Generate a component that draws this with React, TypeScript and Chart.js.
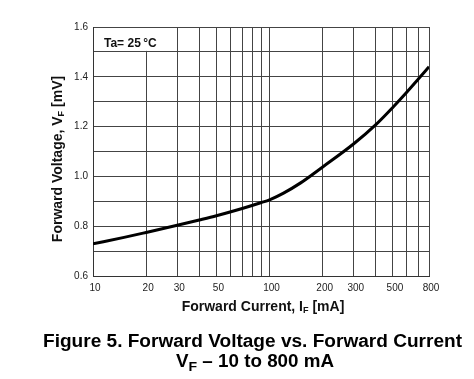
import React, { useEffect, useRef } from "react";
import { Chart, registerables } from "chart.js";

Chart.register(...registerables);

// Data
const CURRENT_MA = [10, 15, 20, 30, 40, 50, 70, 90, 100, 120, 150, 200, 300, 400, 500, 600, 700, 800];
const FORWARD_V = [0.729, 0.755, 0.775, 0.804, 0.825, 0.842, 0.871, 0.895, 0.906, 0.933, 0.974, 1.038, 1.131, 1.208, 1.278, 1.339, 1.393, 1.44];

const X_GRID = [10, 20, 30, 40, 50, 60, 70, 80, 90, 100, 200, 300, 400, 500, 600, 700, 800];
const X_LABELS = [10, 20, 30, 50, 100, 200, 300, 500, 800];
const Y_GRID = [0.6, 0.7, 0.8, 0.9, 1.0, 1.1, 1.2, 1.3, 1.4, 1.5, 1.6];
const Y_LABELS = [0.6, 0.8, 1.0, 1.2, 1.4, 1.6];

const FONT = '"Liberation Sans", Arial, Helvetica, sans-serif';

type Part = { t: string; sub?: boolean };

function drawRich(
  ctx: CanvasRenderingContext2D,
  parts: Part[],
  x: number,
  y: number,
  size: number,
  subScale: number,
  subDrop: number,
  targetWidth?: number
) {
  const mainFont = `bold ${size}px ${FONT}`;
  const subFont = `bold ${size * subScale}px ${FONT}`;
  let total = 0;
  const widths = parts.map((p) => {
    ctx.font = p.sub ? subFont : mainFont;
    const w = ctx.measureText(p.t).width;
    total += w;
    return w;
  });
  const sx = targetWidth ? targetWidth / total : 1;
  ctx.save();
  ctx.translate(x, y);
  ctx.scale(sx, 1);
  ctx.textAlign = "left";
  ctx.textBaseline = "alphabetic";
  let cx = -total / 2;
  parts.forEach((p, i) => {
    ctx.font = p.sub ? subFont : mainFont;
    ctx.fillText(p.t, cx, p.sub ? subDrop : 0);
    cx += widths[i];
  });
  ctx.restore();
}

const textPlugin = {
  id: "textPlugin",
  beforeDatasetsDraw(chart: any) {
    const { ctx, chartArea, scales } = chart;
    const xs = scales.x;
    const ys = scales.y;
    ctx.save();
    // white label box covering grid in the top-left cell
    const boxRight = xs.getPixelForValue(20) + 12;
    const boxBottom = ys.getPixelForValue(1.5) - 1;
    ctx.fillStyle = "#ffffff";
    ctx.fillRect(chartArea.left + 1, chartArea.top + 1, boxRight - chartArea.left - 1, boxBottom - chartArea.top - 1);
    ctx.fillStyle = "#111";
    ctx.font = `bold 12px ${FONT}`;
    ctx.textAlign = "left";
    ctx.textBaseline = "alphabetic";
    ctx.fillText("Ta= 25\u2009°C", chartArea.left + 11, chartArea.top + 20);
    ctx.restore();
  },
  afterDraw(chart: any) {
    const { ctx } = chart;
    ctx.save();
    ctx.fillStyle = "#111";
    // x axis title
    drawRich(ctx, [{ t: "Forward Current, I" }, { t: "F", sub: true }, { t: " [mA]" }], 263, 311, 14, 0.65, 1.5);
    // y axis title
    ctx.save();
    ctx.translate(62, 159);
    ctx.rotate(-Math.PI / 2);
    drawRich(ctx, [{ t: "Forward Voltage, V" }, { t: "F", sub: true }, { t: " [mV]" }], 0, 0, 14, 0.65, 1.5);
    ctx.restore();
    // caption
    ctx.fillStyle = "#000";
    drawRich(ctx, [{ t: "Figure 5. Forward Voltage vs. Forward Current" }], 252.5, 347, 18, 0.7, 0, 419);
    drawRich(ctx, [{ t: "V" }, { t: "F", sub: true }, { t: " – 10 to 800 mA" }], 255, 367, 18, 0.75, 4, 158);
    ctx.restore();
  },
};

export default function App() {
  const ref = useRef<HTMLCanvasElement | null>(null);

  useEffect(() => {
    if (!ref.current) return;
    const data = CURRENT_MA.map((x, i) => ({ x, y: FORWARD_V[i] }));
    const chart = new Chart(ref.current, {
      type: "line",
      data: {
        datasets: [
          {
            data,
            borderColor: "#000",
            borderWidth: 3,
            pointRadius: 0,
            fill: false,
            cubicInterpolationMode: "monotone",
          },
        ],
      },
      options: {
        animation: false,
        responsive: false,
        devicePixelRatio: 1,
        layout: { padding: { left: 0, right: 45, top: 27, bottom: 0 } },
        plugins: {
          legend: { display: false },
          tooltip: { enabled: false },
        },
        scales: {
          x: {
            type: "logarithmic",
            min: 10,
            max: 800,
            afterBuildTicks: (scale: any) => {
              scale.ticks = X_GRID.map((v) => ({ value: v }));
            },
            afterFit: (scale: any) => {
              scale.height = 103;
            },
            grid: { color: "#444", lineWidth: 1, drawTicks: false },
            border: { display: true, color: "#333", width: 1 },
            ticks: {
              autoSkip: false,
              maxRotation: 0,
              minRotation: 0,
              padding: 6,
              labelOffset: 2,
              color: "#222",
              font: { family: FONT, size: 10 },
              callback: (v: any) => (X_LABELS.includes(Number(v)) ? String(v) : ""),
            },
          },
          y: {
            type: "linear",
            min: 0.6,
            max: 1.6,
            afterBuildTicks: (scale: any) => {
              scale.ticks = Y_GRID.map((v) => ({ value: v }));
            },
            afterFit: (scale: any) => {
              scale.width = 93;
            },
            grid: { color: "#444", lineWidth: 1, drawTicks: false },
            border: { display: true, color: "#333", width: 1 },
            ticks: {
              padding: 5,
              color: "#222",
              font: { family: FONT, size: 10 },
              callback: (v: any) =>
                Y_LABELS.some((l) => Math.abs(l - Number(v)) < 1e-6) ? Number(v).toFixed(1) : "",
            },
          },
        },
      },
      plugins: [textPlugin],
    } as any);
    return () => chart.destroy();
  }, []);

  return (
    <div style={{ position: "absolute", left: 0, top: 0, width: 474, height: 379, background: "#fff" }}>
      <canvas ref={ref} width={474} height={379} style={{ width: 474, height: 379, display: "block" }} />
    </div>
  );
}
